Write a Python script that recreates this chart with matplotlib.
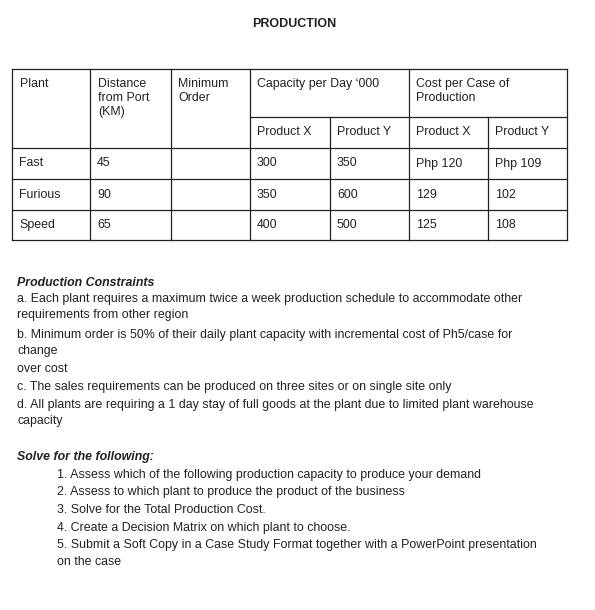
import matplotlib.pyplot as plt

plt.rcParams['font.family'] = ['Liberation Sans', 'DejaVu Sans']

# ================= 数据 =================
plants = ["Fast", "Furious", "Speed"]
distance = ["45", "90", "65"]
min_order = ["", "", ""]
cap_x = ["300", "350", "400"]
cap_y = ["350", "600", "500"]
cost_x = ["Php 120", "129", "125"]
cost_y = ["Php 109", "102", "108"]

constraints = [
    "a. Each plant requires a maximum twice a week production schedule to accommodate other",
    "requirements from other region",
    "b. Minimum order is 50% of their daily plant capacity with incremental cost of Ph5/case for",
    "change",
    "over cost",
    "c. The sales requirements can be produced on three sites or on single site only",
    "d. All plants are requiring a 1 day stay of full goods at the plant due to limited plant warehouse",
    "capacity",
]
tasks = [
    "1. Assess which of the following production capacity to produce your demand",
    "2. Assess to which plant to produce the product of the business",
    "3. Solve for the Total Production Cost.",
    "4. Create a Decision Matrix on which plant to choose.",
    "5. Submit a Soft Copy in a Case Study Format together with a PowerPoint presentation",
    "on the case",
]

# ================= 画布 =================
fig = plt.figure(figsize=(5.95, 6.10), dpi=100)
ax = fig.add_axes([0, 0, 1, 1])
ax.set_xlim(0, 595)
ax.set_ylim(610, 0)
ax.axis('off')

fs = 8.9
col = "#222222"
lw = 0.9

ax.text(294, 24, "PRODUCTION", ha='center', va='center', fontsize=9,
        color=col, fontweight='semibold')

# 表格线
xs = [12, 90, 171, 250, 330, 409, 488, 567]
ys = [69, 148, 179, 210, 240]
for y in ys:
    ax.plot([12, 567], [y, y], color=col, lw=lw)
ax.plot([250, 567], [117, 117], color=col, lw=lw)
for x in [12, 90, 171, 250, 409, 567]:
    ax.plot([x, x], [69, 240], color=col, lw=lw)
for x in [330, 488]:
    ax.plot([x, x], [117, 240], color=col, lw=lw)

# 表头
ax.text(20, 78, "Plant", va='top', fontsize=fs, color=col)
ax.text(98, 78, "Distance\nfrom Port\n(KM)", va='top', fontsize=fs, color=col, linespacing=1.2)
ax.text(178, 78, "Minimum\nOrder", va='top', fontsize=fs, color=col, linespacing=1.2)
ax.text(257, 78, "Capacity per Day \u2018000", va='top', fontsize=fs, color=col)
ax.text(416, 78, "Cost per Case of\nProduction", va='top', fontsize=fs, color=col, linespacing=1.2)
for x, t in zip(xs[3:7], ["Product X", "Product Y", "Product X", "Product Y"]):
    ax.text(x + 7, 132, t, va='center', fontsize=fs, color=col)

# 表体
for i in range(len(plants)):
    yc = (ys[i + 1] + ys[i + 2]) / 2
    row = [plants[i], distance[i], min_order[i], cap_x[i], cap_y[i], cost_x[i], cost_y[i]]
    for x, t in zip(xs[:7], row):
        ax.text(x + 7, yc, t, va='center', fontsize=fs, color=col)

# 文字部分
ax.text(17, 283, "Production Constraints", va='center', fontsize=fs,
        color=col, fontweight='bold', style='italic')
for y, t in zip([299, 315, 335, 351, 369, 387, 405, 421], constraints):
    ax.text(17, y, t, va='center', fontsize=fs, color=col)

ax.text(17, 457, "Solve for the following:", va='center', fontsize=fs,
        color=col, fontweight='bold', style='italic')
for y, t in zip([475, 492, 510, 528, 545, 562], tasks):
    ax.text(57, y, t, va='center', fontsize=fs, color=col)

plt.savefig("out.png", dpi=100)
